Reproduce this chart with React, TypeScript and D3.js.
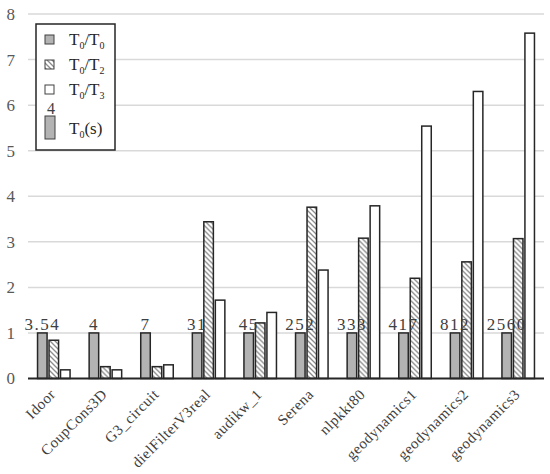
import { scaleBand, scaleLinear } from 'd3'

const categories = [
  'Idoor',
  'CoupCons3D',
  'G3_circuit',
  'dielFilterV3real',
  'audikw_1',
  'Serena',
  'nlpkkt80',
  'geodynamics1',
  'geodynamics2',
  'geodynamics3',
]

const seriesNames = ['T0/T0', 'T0/T2', 'T0/T3']

const ratioT0 = [1, 1, 1, 1, 1, 1, 1, 1, 1, 1]
const ratioT2 = [0.84, 0.26, 0.26, 3.44, 1.22, 3.76, 3.08, 2.2, 2.56, 3.07]
const ratioT3 = [0.19, 0.19, 0.3, 1.72, 1.45, 2.38, 3.79, 5.54, 6.3, 7.58]

const t0Seconds = ['3.54', '4', '7', '31', '45', '252', '333', '417', '812', '2560']

const yTickValues = [0, 1, 2, 3, 4, 5, 6, 7, 8]

const width = 550
const height = 474
const margin = { top: 14, right: 6, bottom: 95, left: 28 }

const fills = ['#b3b3b3', 'url(#hatch)', '#ffffff']
const serif = "'Liberation Serif', 'DejaVu Serif', serif"

function App() {
  const innerWidth = width - margin.left - margin.right
  const innerHeight = 378.5 - margin.top
  const series = [ratioT0, ratioT2, ratioT3]

  const x0 = scaleBand().domain(categories).range([0, innerWidth]).padding(0)
  const x1 = scaleBand()
    .domain(seriesNames)
    .range([0, x0.bandwidth()])
    .paddingInner(0.17)
    .paddingOuter(0.83)
  const y = scaleLinear().domain([0, 8]).range([innerHeight, 0])

  return (
    <svg
      width={width}
      height={height}
      style={{ position: 'absolute', left: 0, top: 0, fontFamily: serif }}
    >
      <defs>
        <pattern id="hatch" patternUnits="userSpaceOnUse" width={5} height={5}>
          <rect width={5} height={5} fill="#ffffff" />
          <path d="M-1,-1 L6,6 M-1,4 L1,6 M4,-1 L6,1" stroke="#8c8c8c" strokeWidth={1.3} />
        </pattern>
      </defs>
      <rect width={width} height={height} fill="#ffffff" />
      <g transform={`translate(${margin.left}, ${margin.top})`}>
        {yTickValues.map((tick) => (
          <g key={tick}>
            {tick > 0 && (
              <line
                x1={0}
                x2={innerWidth}
                y1={y(tick)}
                y2={y(tick)}
                stroke="#d9d9d9"
                strokeWidth={1.5}
              />
            )}
            <text
              x={-13}
              y={y(tick)}
              dy="0.35em"
              textAnchor="end"
              fontSize={17}
              fill="#595959"
            >
              {tick}
            </text>
          </g>
        ))}

        {categories.map((cat, i) => {
          const gx = x0(cat) ?? 0
          return (
            <g key={cat} transform={`translate(${gx}, 0)`}>
              {series.map((values, s) => {
                const bx = x1(seriesNames[s]) ?? 0
                const v = values[i]
                return (
                  <rect
                    key={seriesNames[s]}
                    x={bx}
                    y={y(v)}
                    width={x1.bandwidth()}
                    height={innerHeight - y(v)}
                    fill={fills[s]}
                    stroke="#262626"
                    strokeWidth={1.5}
                  />
                )
              })}
              <text
                x={(x1(seriesNames[0]) ?? 0) + x1.bandwidth() / 2}
                y={y(ratioT0[i]) - 3}
                textAnchor="middle"
                fontSize={17}
                letterSpacing={1.5}
                fill="#404040"
              >
                {t0Seconds[i]}
              </text>
              <text
                transform={`translate(${x0.bandwidth() / 2 - 1}, ${innerHeight + 13}) rotate(-45)`}
                textAnchor="end"
                dy="0.35em"
                fontSize={15}
                letterSpacing={0.5}
                fill="#404040"
              >
                {cat}
              </text>
            </g>
          )
        })}

        <line x1={0} x2={innerWidth} y1={innerHeight} y2={innerHeight} stroke="#262626" strokeWidth={2} />
      </g>

      <g transform="translate(36, 24)">
        <rect width={79} height={126} fill="#ffffff" stroke="#262626" strokeWidth={1.5} />
        {seriesNames.map((name, s) => (
          <g key={name} transform={`translate(0, ${15 + s * 25})`}>
            <rect x={9} y={-4} width={9} height={9} fill={fills[s]} stroke="#404040" strokeWidth={1} />
            <text x={33} y={0} dy="0.35em" fontSize={17} fill="#262626">
              <tspan>T</tspan>
              <tspan fontSize={10} dy={4}>0</tspan>
              <tspan dy={-4}>/T</tspan>
              <tspan fontSize={10} dy={4}>
                {name.slice(-1)}
              </tspan>
            </text>
          </g>
        ))}
        <text x={15} y={90} textAnchor="middle" fontSize={16} fill="#404040">
          4
        </text>
        <rect x={9} y={92} width={10} height={23} fill={fills[0]} stroke="#404040" strokeWidth={1} />
        <text x={33} y={104} dy="0.35em" fontSize={17} fill="#262626">
          <tspan>T</tspan>
          <tspan fontSize={10} dy={4}>0</tspan>
          <tspan dy={-4}>(s)</tspan>
        </text>
      </g>
    </svg>
  )
}

export default App
